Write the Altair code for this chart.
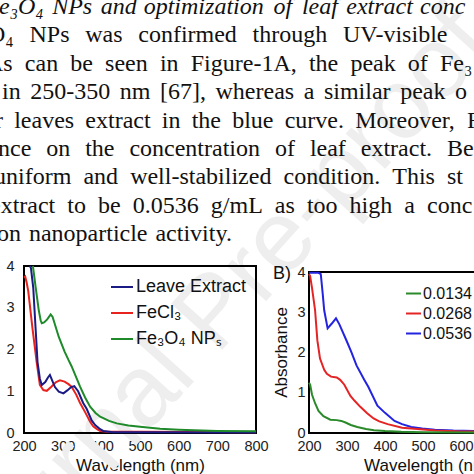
import altair as alt
import pandas as pd

# ---------------- data ----------------
para_lines = [
    ["e₃O₄", "NPs", "and", "optimization", "of", "leaf", "extract", "conc"],
    ["O₄", "NPs", "was", "confirmed", "through", "UV-visible"],
    ["As", "can", "be", "seen", "in", "Figure-1A,", "the", "peak", "of", "Fe₃"],
    ["in", "250-350", "nm", "[67],", "whereas", "a", "similar", "peak", "o"],
    ["r", "leaves", "extract", "in", "the", "blue", "curve.", "Moreover,", "F"],
    ["nce", "on", "the", "concentration", "of", "leaf", "extract.", "Be"],
    ["uniform", "and", "well-stabilized", "condition.", "This", "st"],
    ["extract", "to", "be", "0.0536", "g/mL", "as", "too", "high", "a", "conc"],
    ["on", "nanoparticle", "activity."],
]
watermark = ["Journal Pre-proof"]

a_series = ["Leave Extract", "FeCl₃", "Fe₃O₄ NPₛ"]
a_blue_wl = [215, 218, 224, 230, 235, 241, 246, 255, 262, 267, 272, 280, 290, 302, 312, 322, 330, 340, 353, 362, 375, 384, 397, 405, 430, 500, 800]
a_blue_ab = [4.0, 3.95, 3.47, 2.5, 1.7, 1.3, 1.15, 1.22, 1.33, 1.39, 1.28, 1.1, 0.99, 0.95, 1.02, 1.1, 1.12, 1.0, 0.72, 0.58, 0.3, 0.19, 0.09, 0.05, 0.02, 0.02, 0.01]
a_red_wl = [200, 203, 207, 211, 222, 233, 241, 250, 259, 270, 283, 293, 305, 315, 323, 335, 345, 358, 371, 379, 388, 397, 414, 500, 800]
a_red_ab = [3.72, 3.75, 3.6, 3.4, 2.5, 1.68, 1.15, 1.03, 1.01, 1.1, 1.22, 1.26, 1.23, 1.17, 1.11, 0.92, 0.72, 0.5, 0.27, 0.16, 0.1, 0.05, 0.03, 0.03, 0.02]
a_green_wl = [223, 230, 238, 243, 246, 252, 260, 269, 274, 290, 305, 315, 323, 345, 358, 371, 385, 397, 420, 440, 470, 500, 552, 600, 700, 800]
a_green_ab = [4.0, 3.5, 2.95, 2.7, 2.63, 2.65, 2.72, 2.84, 2.78, 2.3, 1.95, 1.75, 1.6, 1.11, 0.85, 0.63, 0.48, 0.39, 0.29, 0.23, 0.18, 0.15, 0.1, 0.08, 0.05, 0.04]

b_series = ["0.0134", "0.0268", "0.0536"]
b_blue_wl = [200, 210, 225, 231, 236, 240, 249, 260, 271, 280, 298, 311, 325, 345, 356, 380, 400, 425, 445, 469, 498, 531, 580, 637, 700, 800]
b_blue_ab = [3.98, 3.98, 3.98, 3.95, 3.47, 3.05, 2.6, 2.72, 2.85, 2.7, 2.31, 2.02, 1.68, 1.33, 1.15, 0.68, 0.5, 0.3, 0.22, 0.15, 0.11, 0.08, 0.06, 0.05, 0.04, 0.03]
b_red_wl = [200, 203, 208, 216, 222, 229, 240, 247, 258, 273, 282, 293, 309, 320, 335, 353, 370, 385, 407, 445, 469, 533, 600, 700, 800]
b_red_ab = [3.95, 3.9, 3.6, 3.05, 2.3, 1.85, 1.57, 1.47, 1.4, 1.38, 1.32, 1.2, 0.92, 0.8, 0.65, 0.49, 0.36, 0.29, 0.22, 0.13, 0.11, 0.06, 0.04, 0.03, 0.02]
b_green_wl = [200, 203, 208, 216, 225, 238, 256, 273, 285, 296, 310, 327, 350, 371, 400, 443, 500, 800]
b_green_ab = [1.25, 1.2, 0.95, 0.74, 0.55, 0.42, 0.33, 0.32, 0.3, 0.26, 0.2, 0.15, 0.1, 0.07, 0.05, 0.03, 0.02, 0.01]

x_ticks = [200, 300, 400, 500, 600, 700, 800]
y_ticks = [0, 1, 2, 3, 4]

# ---------------- paragraph layout (justified lines) ----------------
TIMES = {
    'a': .444, 'b': .5, 'c': .444, 'd': .5, 'e': .444, 'f': .333, 'g': .5, 'h': .5, 'i': .278,
    'j': .278, 'k': .5, 'l': .278, 'm': .778, 'n': .5, 'o': .5, 'p': .5, 'q': .5, 'r': .333,
    's': .389, 't': .278, 'u': .5, 'v': .5, 'w': .722, 'x': .5, 'y': .5, 'z': .444,
    'A': .722, 'B': .667, 'F': .556, 'L': .611, 'M': .889, 'N': .722, 'O': .722, 'P': .556,
    'T': .611, 'U': .722, 'V': .722, '-': .333, ',': .25, '.': .25, '[': .333, ']': .333,
    '/': .278, '₃': .35, '₄': .35,
}
FS = 24
def wid(w):
    return sum(TIMES.get(ch, .5) for ch in w) * FS

first_x = [-1, -12, -14, 2, -5, -2, -6, -10, -3]
last_x = [420, 343, 440, 455, 467, 447, 447, 427, None]
rows = []
for i, words in enumerate(para_lines):
    y = 14 + 28.4 * i
    if last_x[i] is None:
        gap = 0.33 * FS
    else:
        gap = (last_x[i] - first_x[i] - sum(wid(w) for w in words[:-1])) / (len(words) - 1)
    x = first_x[i]
    for w in words:
        rows.append({"word": w, "px": x, "py": y, "italic": i == 0})
        x += wid(w) + gap
words_df = pd.DataFrame(rows)

text_reg = alt.Chart(words_df[~words_df.italic]).mark_text(
    font="Liberation Serif", fontSize=FS, align="left", baseline="alphabetic", color="#111111"
).encode(x=alt.X("px:Q", scale=None), y=alt.Y("py:Q", scale=None), text="word:N")
text_it = alt.Chart(words_df[words_df.italic]).mark_text(
    font="Liberation Serif", fontSize=FS, fontStyle="italic", align="left", baseline="alphabetic", color="#111111"
).encode(x=alt.X("px:Q", scale=None), y=alt.Y("py:Q", scale=None), text="word:N")

wm = alt.Chart(pd.DataFrame({"t": watermark})).mark_text(
    font="Liberation Sans", fontSize=100, angle=312, align="center", baseline="middle", color="#eeeeee"
).encode(x=alt.value(215), y=alt.value(313), text="t:N")

# ---------------- panel helper ----------------
def long(series, wls, abss):
    out = []
    for s, wl, ab in zip(series, wls, abss):
        for a, b in zip(wl, ab):
            out.append({"series": s, "wl": a, "ab": b})
    return pd.DataFrame(out)

def panel(df, series, colors, xrange, yrange, xtitle_kw, yaxis_kw, legend_kw):
    xs = alt.Scale(domain=[200, 800], range=xrange, nice=False, zero=False)
    ys = alt.Scale(domain=[0, 4], range=yrange, nice=False)
    xax = alt.Axis(orient="bottom", values=x_ticks, grid=False, ticks=False, domain=False,
                   offset=-(474 - yrange[0]),
                   labelFlush=False, labelPadding=6, labelFont="Liberation Sans", labelFontSize=14.5,
                   labelColor="#222222", title="Wavelength (nm)", titleFont="Liberation Sans",
                   titleFontSize=17, titleFontWeight="normal", titleColor="#111111",
                   titleY=37, titleBaseline="alphabetic", **xtitle_kw)
    yax = alt.Axis(orient="left", values=y_ticks, grid=False, ticks=False, domain=False, offset=-xrange[0],
                   labelFlush=False, labelFont="Liberation Sans", labelFontSize=14.5,
                   labelColor="#222222", **yaxis_kw)
    frame_df = pd.DataFrame({"x0": [200], "x1": [800], "y0": [0], "y1": [4]})
    frame = alt.Chart(frame_df).mark_rect(filled=False, stroke="black", strokeWidth=2).encode(
        x=alt.X("x0:Q", scale=xs, axis=xax), x2="x1:Q",
        y=alt.Y("y0:Q", scale=ys, axis=yax), y2="y1:Q")
    lines = alt.Chart(df).mark_line(strokeWidth=2).encode(
        x=alt.X("wl:Q", scale=xs, axis=xax),
        y=alt.Y("ab:Q", scale=ys, axis=yax),
        color=alt.Color("series:N", scale=alt.Scale(domain=series, range=colors),
                        legend=alt.Legend(orient="none", title=None, symbolType="stroke",
                                          symbolStrokeWidth=2, labelFont="Liberation Sans",
                                          labelColor="#111111", padding=0, **legend_kw)),
        detail="series:N")
    return alt.layer(frame, lines)

dfA = long(["FeCl₃", "Leave Extract", "Fe₃O₄ NPₛ"], [a_red_wl, a_blue_wl, a_green_wl], [a_red_ab, a_blue_ab, a_green_ab])
dfB = long(["0.0536", "0.0268", "0.0134"], [b_blue_wl, b_red_wl, b_green_wl], [b_blue_ab, b_red_ab, b_green_ab])

chartA = panel(dfA, a_series, ["#1b1b85", "#e8231e", "#1e8a2a"], [24, 256], [433, 266],
               dict(),
               dict(labelPadding=10, title=None),
               dict(legendX=110, legendY=275, symbolSize=484, labelFontSize=18, labelOffset=2, rowPadding=5))
chartB = panel(dfB, b_series, ["#2a8a2a", "#e42424", "#2323e0"], [309, 537], [433, 272],
               dict(titleX=428, titleAlign="center"),
               dict(labelPadding=4, title="Absorbance", titleFont="Liberation Sans", titleFontSize=17,
                    titleFontWeight="normal", titleColor="#111111", titleAngle=270, titleX=-23,
                    titleY=352, titleBaseline="alphabetic", titleAlign="center"),
               dict(legendX=405, legendY=285, symbolSize=225, labelFontSize=16, labelOffset=1, rowPadding=3))

blabel = alt.Chart(pd.DataFrame({"t": ["B)"]})).mark_text(
    font="Liberation Sans", fontSize=18, align="left", baseline="alphabetic", color="#111111"
).encode(x=alt.value(273), y=alt.value(279), text="t:N")

chart = alt.layer(wm, text_reg, text_it, chartA, chartB, blabel).resolve_scale(
    x="independent", y="independent", color="independent"
).properties(
    width=474, height=474, autosize=alt.AutoSizeParams(type="none"), padding=0, background="white"
).configure_view(stroke=None)

chart.save("out.html", embed_options={"renderer": "svg", "actions": False})
